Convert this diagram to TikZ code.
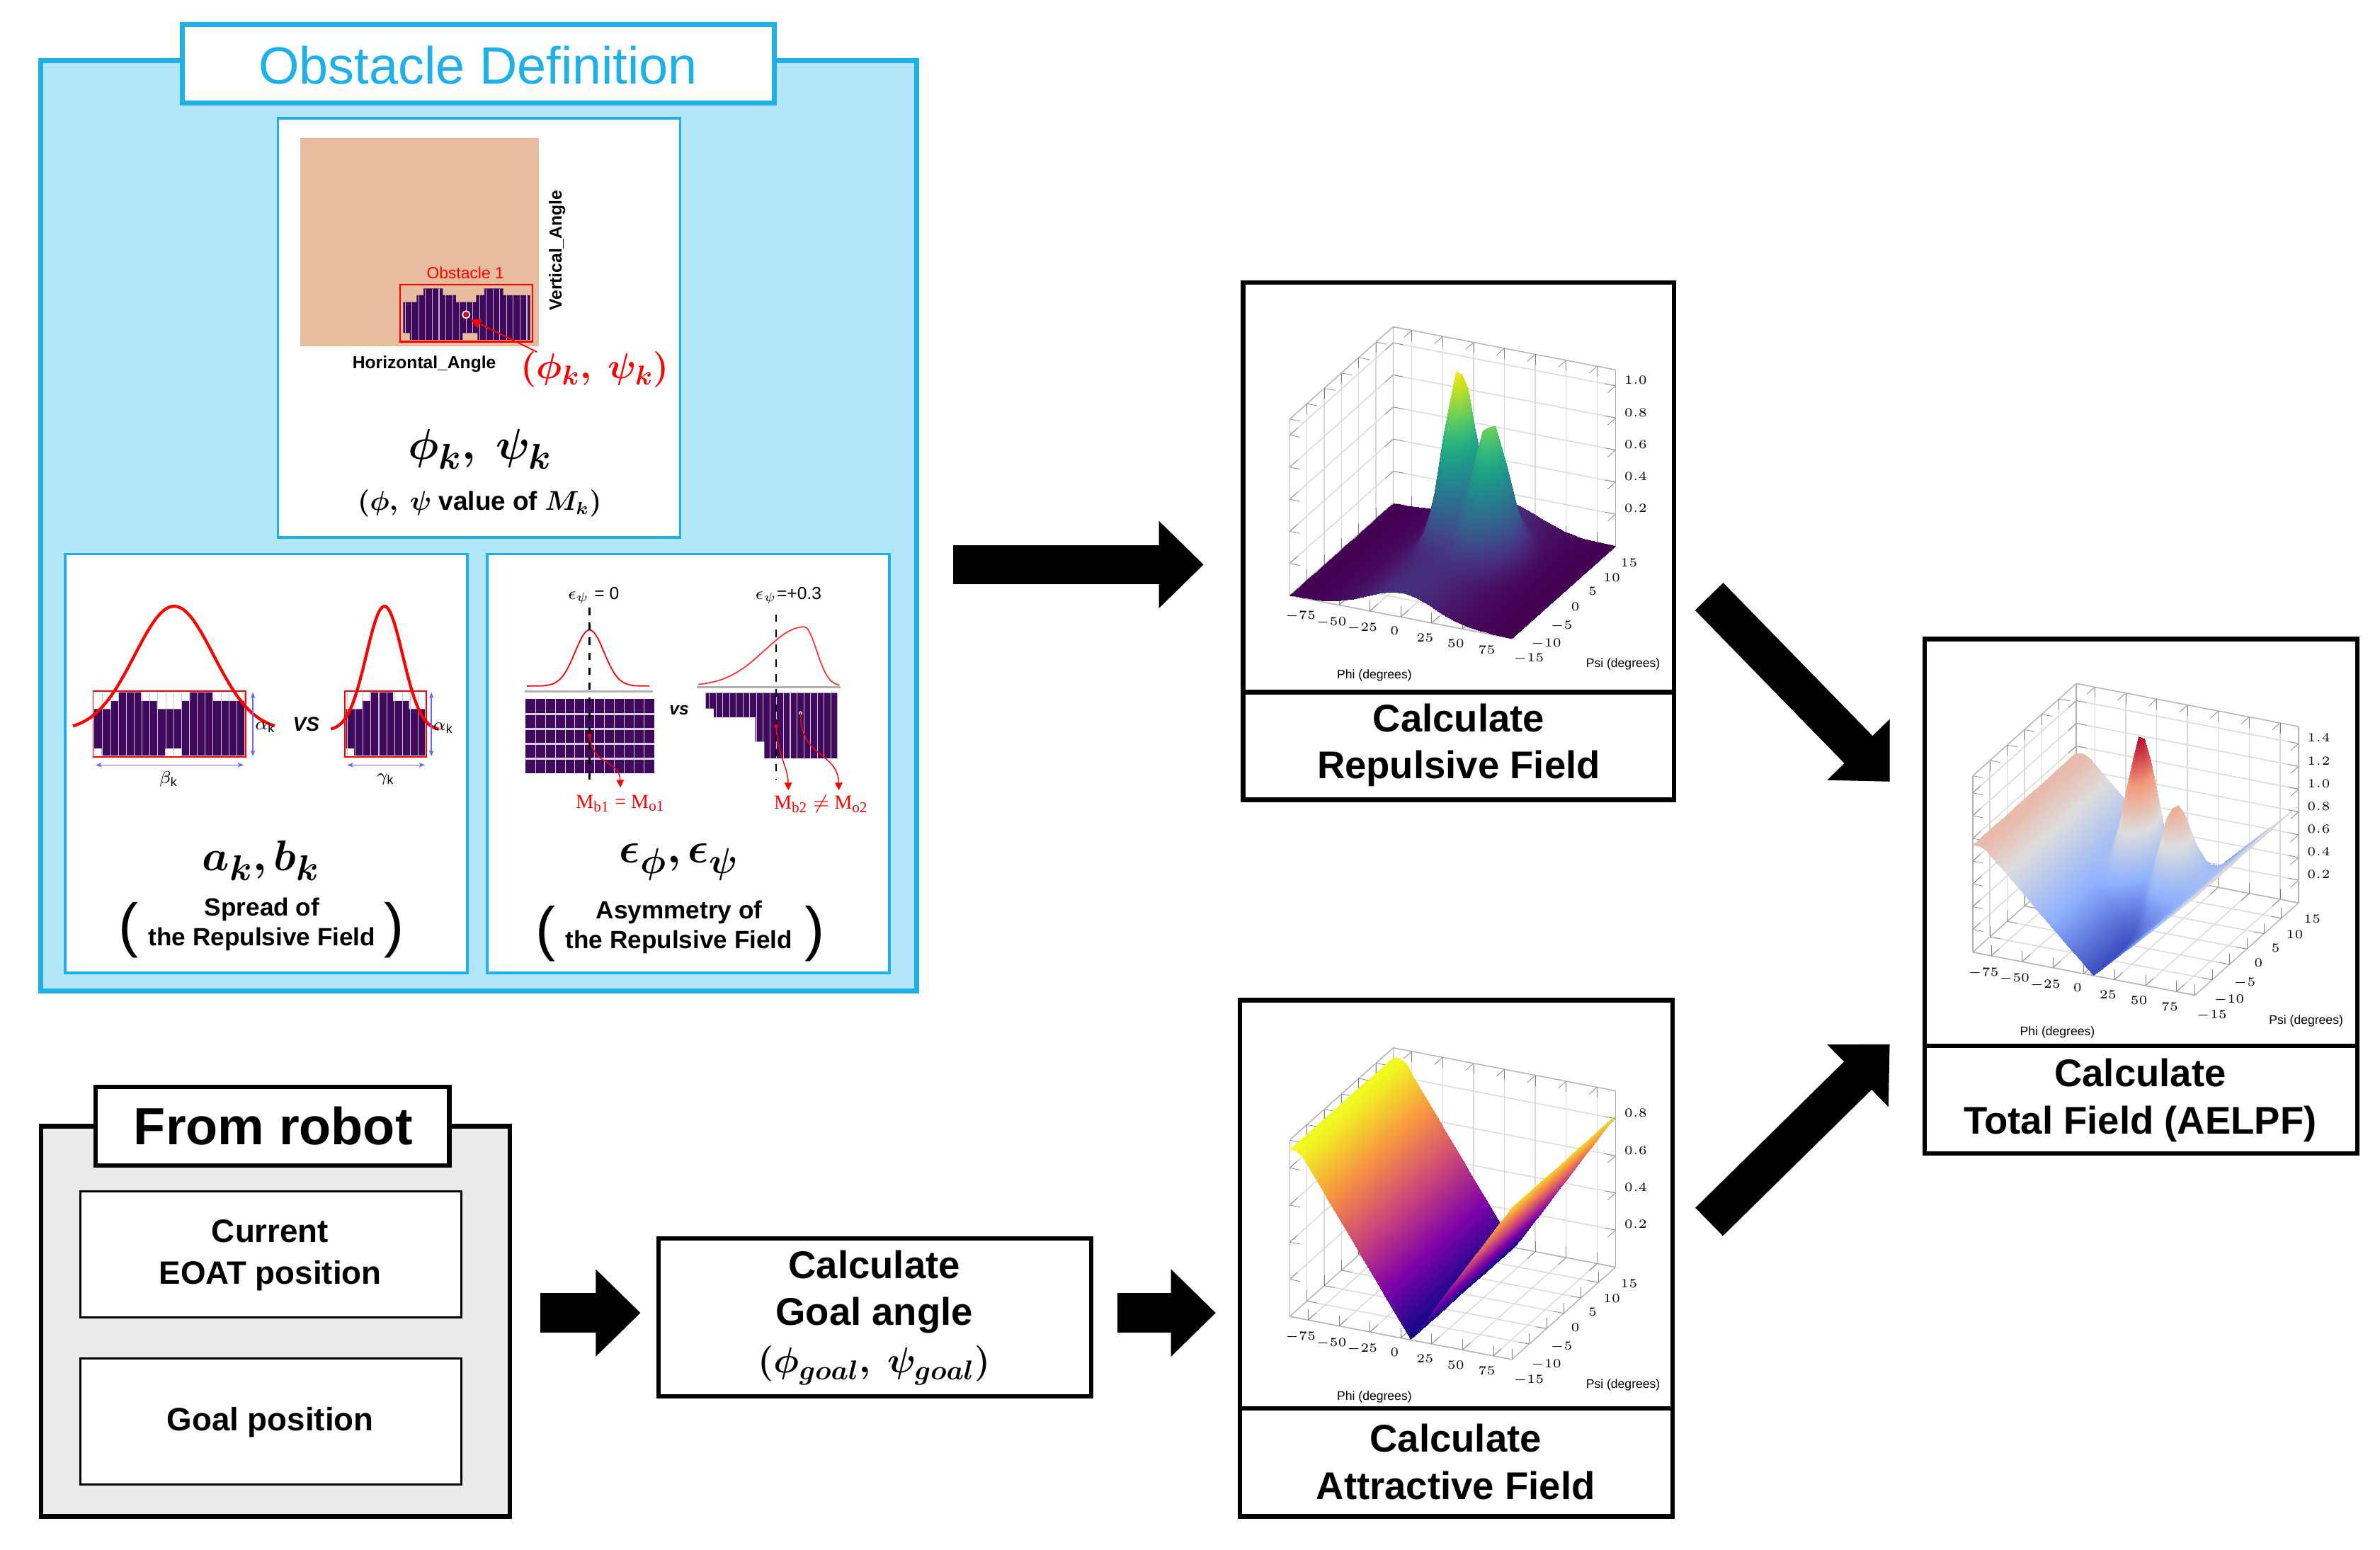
\documentclass[tikz,border=0pt]{standalone}
\usepackage{amsmath,bm}
\usepackage{fontspec}
\setmainfont{Liberation Sans}
\newfontfamily\serifx{Liberation Serif}
\usepackage{pgfplots}
\pgfplotsset{compat=1.18}
\usetikzlibrary{arrows.meta}
\definecolor{cyanb}{HTML}{1EB0E8}
\definecolor{cyanf}{HTML}{B3E6F8}
\definecolor{peach}{HTML}{E8BC9E}
\definecolor{purp}{HTML}{3F0A5B}
\definecolor{grayf}{HTML}{EBEBEB}
\pgfplotsset{
  colormap={plasma}{rgb255=(13,8,135) rgb255=(126,3,168) rgb255=(204,71,120) rgb255=(248,149,64) rgb255=(240,249,33)},
  colormap={coolwarm}{rgb255=(59,76,192) rgb255=(141,176,254) rgb255=(221,221,221) rgb255=(244,154,123) rgb255=(180,4,38)},
  fieldaxis/.style={scale only axis, width=4.6cm, height=4.4cm, view={25}{30},
    grid=major, xmin=-90, xmax=90, ymin=-15, ymax=15,
    xtick={-75,-50,-25,0,25,50,75}, ytick={-15,-10,-5,0,5,10,15},
    tick label style={font=\fontsize{5}{6}\selectfont},
    z tick label style={/pgf/number format/.cd, fixed, fixed zerofill, precision=1},
    label style={font=\fontsize{5}{6}\selectfont},
    xlabel={Phi (degrees)}, ylabel={Psi (degrees)},
    zticklabel pos=right, axis line style={gray!60},
    major grid style={gray!30}}
}
\tikzset{
  box/.style={draw=black, line width=1.8pt, fill=white},
  cbox/.style={draw=cyanb, line width=1pt, fill=white},
  lbl/.style={align=center, font=\fontsize{15.5}{19}\selectfont\bfseries},
  bigarr/.style={line width=15.8pt, -{Triangle[length=18pt,width=34pt]}},
  sm/.style={font=\fontsize{7}{8}\selectfont\bfseries},
}
\begin{document}
\begin{tikzpicture}[x=0.02143cm, y=-0.02143cm]
\useasboundingbox (0,0) rectangle (1568,1021);

% ---- obstacle definition
\draw[draw=cyanb, line width=2pt, fill=cyanf] (27,40) rectangle (604,653);
\draw[draw=cyanb, line width=2pt, fill=white] (120,16) rectangle (510,68);
\node[text=cyanb, font=\fontsize{21}{24}\selectfont] (obs) at (315,43) {Obstacle Definition};

% top panel
\draw[cbox] (183,78) rectangle (448,354);
\fill[peach] (198,91) rectangle (355,228);
\draw[red, line width=0.6pt] (263.5,187.4) rectangle (350.8,225.1);
\node[text=red, font=\fontsize{6.5}{7}\selectfont] (ob1) at (306.6,179.9) {Obstacle 1};
\begin{scope}
\path[clip] (265.6,219.4) -- (265.6,199) -- (274.5,199) -- (274.5,194.5) -- (279,194.5) -- (279,190) -- (291.8,190) -- (291.8,194.5) -- (300.4,194.5) -- (300.4,199) -- (313.7,199) -- (313.7,194.5) -- (319.1,194.5) -- (319.1,190) -- (331.5,190) -- (331.5,194.5) -- (349.3,194.5) -- (349.3,223.9) -- (314.6,223.9) -- (314.6,219.4) -- (304.8,219.4) -- (304.8,223.9) -- (270.1,223.9) -- (270.1,219.4) -- cycle;
\fill[purp] (260,185) rectangle (352,226);
\draw[white!70!purp, line width=0.3pt, step=4.45] (261.15,185.55) grid (352,226);
\end{scope}
\coordinate (mk) at (307.1,207.3);
\fill[red] (mk) circle (1.6);
\draw[white, line width=0.5pt] (mk) circle (2.4);
\coordinate (mks) at (353.8,231.9);
\draw[red, line width=0.5pt, -{Triangle[length=4pt,width=4pt]}] (mks) -- (310.2,210.5);
\node[rotate=90, sm] (va) at (367.1,165.1) {Vertical\_Angle};
\node[sm] (ha) at (279.5,239.9) {Horizontal\_Angle};
\node[text=red, font=\fontsize{15}{18}\selectfont] (pk) at (392,243.5) {$\bm{(\phi_k,\ \psi_k)}$};
\node[font=\fontsize{19}{22}\selectfont] (pk2) at (316.4,296) {$\bm{\phi_k,\ \psi_k}$};
\node[font=\fontsize{10.5}{12}\selectfont\bfseries] (val) at (316,331.6) {$\bm{(\phi,\ \psi}$ value of $\bm{M_k)}$};

% bottom left panel
\draw[cbox] (43,365) rectangle (308,641);
\fill[purp] (62,497.8) -- (62,467.2) -- (72.9,467.2) -- (72.9,461.8) -- (78.2,461.8) -- (78.2,456.1) -- (92.9,456.1) -- (92.9,461.8) -- (103.4,461.8) -- (103.4,467.2) -- (119.9,467.2) -- (119.9,461.8) -- (125.2,461.8) -- (125.2,456.1) -- (140.3,456.1) -- (140.3,461.8) -- (161.3,461.8) -- (161.3,497.8) -- (119.9,497.8) -- (119.9,493) -- (108.7,493) -- (108.7,497.8) -- (67,497.8) -- (67,493) -- (62,493) -- cycle;
\draw[white!75!purp, line width=0.3pt, step=5.2] (62.4,456.1) grid (161.3,497.8);
\draw[red, line width=0.5pt] (61.3,455.3) rectangle (162,498.7);
\draw[red, line width=1.2pt] plot[domain=48:181, samples=70] (\x,{481.4-82*exp(-((\x-114.7)^2)/(2*26^2))});
\draw[blue!60, line width=0.4pt, {Stealth[length=2.5pt]}-{Stealth[length=2.5pt]}] (166.6,456) -- (166.6,498.3);
\draw[blue!60, line width=0.4pt, {Stealth[length=2.5pt]}-{Stealth[length=2.5pt]}] (63,504) -- (160.6,504);
\node[font=\fontsize{7}{8}\selectfont] (al1) at (174.7,479.3) {$\alpha_\mathrm{k}$};
\node[font=\fontsize{7}{8}\selectfont] (be) at (111.1,513.1) {$\beta_\mathrm{k}$};
\node[font=\fontsize{8}{9}\selectfont\bfseries\itshape] (vs1) at (201.7,477) {VS};
\fill[purp] (228,497.8) -- (228,467.2) -- (238.6,467.2) -- (238.6,461.8) -- (243.8,461.8) -- (243.8,456.1) -- (258.9,456.1) -- (258.9,461.8) -- (269.5,461.8) -- (269.5,467.2) -- (280,467.2) -- (280,497.8) -- (233.3,497.8) -- (233.3,493) -- (228,493) -- cycle;
\draw[white!75!purp, line width=0.3pt, step=5.2] (228.4,456.1) grid (280,497.8);
\draw[red, line width=0.5pt] (227.3,455.3) rectangle (280.7,498.7);
\draw[red, line width=1.2pt] plot[domain=218:289, samples=70] (\x,{481.4-82*exp(-((\x-253.3)^2)/(2*12^2))});
\draw[blue!60, line width=0.4pt, {Stealth[length=2.5pt]}-{Stealth[length=2.5pt]}] (284.2,456) -- (284.2,498.3);
\draw[blue!60, line width=0.4pt, {Stealth[length=2.5pt]}-{Stealth[length=2.5pt]}] (228.7,504) -- (280,504);
\node[font=\fontsize{7}{8}\selectfont] (al2) at (292,479.6) {$\alpha_\mathrm{k}$};
\node[font=\fontsize{7}{8}\selectfont] (ga) at (254,513.5) {$\gamma_\mathrm{k}$};
\node[font=\fontsize{19}{22}\selectfont] (ab) at (172,566.9) {$\bm{a_k, b_k}$};
\node[font=\fontsize{10}{12}\selectfont\bfseries, align=center] (spr) at (172.6,609) {Spread of\\the Repulsive Field};
\node[font=\fontsize{24}{26}\selectfont] (lp1) at (84.8,613) {(};
\node[font=\fontsize{24}{26}\selectfont] (rp1) at (259.6,613) {)};

% bottom right panel
\draw[cbox] (321,365) rectangle (586,641);
\node[font=\fontsize{7}{8}\selectfont] (e0) at (391,392.4) {$\epsilon_\psi$ = 0};
\draw[gray!60, line width=0.8pt] (345.6,455.6) -- (429.9,455.6);
\fill[purp] (346.3,460.6) rectangle (430.9,509.6);
\foreach \yy in {470.4,480.2,490,499.8} \draw[white!80!purp, line width=0.8pt] (346.3,\yy) -- (430.9,\yy);
\foreach \xx in {352.8,359.3,365.8,372.3,378.8,385.3,391.8,398.3,404.8,411.3,417.8,424.3} \draw[white!80!purp, line width=0.3pt] (\xx,460.6) -- (\xx,509.6);
\draw[red, line width=0.5pt] plot[domain=347:428, samples=60] (\x,{452-37*exp(-((\x-388.4)^2)/(2*9.5^2))});
\draw[black, dashed, line width=0.6pt] (388.4,400.4) -- (388.4,516.1);
\coordinate (mb1) at (388.4,484.6);
\fill[red] (mb1) circle (1.3);
\draw[red, line width=0.4pt, -{Triangle[length=3pt,width=3pt]}] (mb1) .. controls (390,505) and (408,500) .. (408.8,518.8);
\node[text=red, font=\fontsize{8}{9}\selectfont\serifx] (m1) at (408.8,529.5) {M\textsubscript{b1} = M\textsubscript{o1}};
\node[font=\fontsize{7}{8}\selectfont\bfseries\itshape] (vs2) at (447.4,468.1) {vs};
\node[font=\fontsize{7}{8}\selectfont] (e3) at (519.4,392.4) {$\epsilon_\psi$=+0.3};
\draw[gray!60, line width=0.8pt] (459,452.9) -- (553.8,452.9);
\begin{scope}
\path[clip] (465,456.5) -- (551.6,456.5) -- (551.6,499.6) -- (503.6,499.6) -- (503.6,488.6) -- (497.6,488.6) -- (497.6,472.5) -- (470.2,472.5) -- (470.2,466.8) -- (465,466.8) -- cycle;
\fill[purp] (460,455) rectangle (553,501);
\draw[white!75!purp, line width=0.3pt, step=4.45] (461.8,456.5) grid (553,501);
\end{scope}
\draw[red!80, line width=0.5pt] plot[domain=460:553, samples=80] (\x,{452-39*exp(-((\x-529.9)^2)/(2*(ifthenelse(\x<529.9,26,8))^2))});
\draw[black, dashed, line width=0.6pt] (511.3,404.9) -- (511.3,513.5);
\coordinate (mb2) at (511.3,478.4);
\coordinate (mo2) at (527.4,469.8);
\fill[red] (mb2) circle (1.3);
\fill[white] (mo2) circle (1.2);
\fill[red] (mo2) circle (0.6);
\draw[red, line width=0.4pt, -{Triangle[length=3pt,width=3pt]}] (mb2) .. controls (513,500) and (519,505) .. (519.4,520.6);
\draw[red, line width=0.4pt, -{Triangle[length=3pt,width=3pt]}] (mo2) .. controls (527,500) and (552,495) .. (552.7,520.6);
\node[text=red, font=\fontsize{8}{9}\selectfont\serifx] (m2) at (541,529.9) {M\textsubscript{b2} $\neq$ M\textsubscript{o2}};
\node[font=\fontsize{19}{22}\selectfont] (ee) at (447.4,568) {$\bm{\epsilon_\phi, \epsilon_\psi}$};
\node[font=\fontsize{10}{12}\selectfont\bfseries, align=center] (asy) at (447.4,611) {Asymmetry of\\the Repulsive Field};
\node[font=\fontsize{24}{26}\selectfont] (lp2) at (359.7,615) {(};
\node[font=\fontsize{24}{26}\selectfont] (rp2) at (536.9,615) {)};

% ---- from robot
\draw[box, fill=grayf] (27,742) rectangle (336,999);
\draw[box] (63,716) rectangle (296,768);
\node[font=\fontsize{21}{24}\selectfont\bfseries] (fr) at (180,742) {From robot};
\draw[box, line width=1pt] (53,785) rectangle (304,868);
\node[lbl, font=\fontsize{13}{17}\selectfont\bfseries] (cur) at (178,827) {Current\\EOAT position};
\draw[box, line width=1pt] (53,895) rectangle (304,978);
\node[lbl, font=\fontsize{13}{17}\selectfont\bfseries] (gp) at (178,937) {Goal position};

% ---- goal angle
\draw[box] (434,816) rectangle (719,920);
\node[lbl] (ga2) at (576,868) {Calculate\\Goal angle\\$\bm{(\phi_{goal},\ \psi_{goal})}$};

% ---- field boxes
\draw[box] (819,186) rectangle (1103,527);
\draw[black, line width=1.8pt] (819,456) -- (1103,456);
\node[lbl] (rep) at (961,491) {Calculate\\Repulsive Field};
\draw[box] (1268,421) rectangle (1553,760);
\draw[black, line width=1.8pt] (1268,689) -- (1553,689);
\node[lbl] (tot) at (1410,725) {Calculate\\Total Field (AELPF)};
\draw[box] (817,659) rectangle (1102,999);
\draw[black, line width=1.8pt] (817,928) -- (1102,928);
\node[lbl] (att) at (959,963) {Calculate\\Attractive Field};

% ---- plots
\coordinate (p1) at (957,318);
\coordinate (p2) at (957,793);
\coordinate (p3) at (1407,553);
\begin{axis}[fieldaxis, at={(p1)}, anchor=center, colormap name=viridis,
  zmin=0, zmax=1.1, ztick={0.2,0.4,0.6,0.8,1.0}]
\addplot3[surf, shader=interp, samples=36, samples y=20, domain=-90:90, y domain=-15:15]
  {exp(-((x+12)^2/150+(y-6)^2/20)) + 0.8*exp(-((x-22)^2/250+(y-3)^2/20)) + 0.15*exp(-(x^2)/1500)};
\end{axis}
\begin{axis}[fieldaxis, at={(p2)}, anchor=center, colormap name=plasma,
  zmin=0, zmax=0.95, ztick={0.2,0.4,0.6,0.8}]
\addplot3[surf, shader=interp, samples=36, samples y=12, domain=-90:90, y domain=-15:15]
  {min(0.9, abs(x-8)/100)};
\end{axis}
\begin{axis}[fieldaxis, at={(p3)}, anchor=center, colormap name=coolwarm,
  zmin=0, zmax=1.55, ztick={0.2,0.4,0.6,0.8,1.0,1.2,1.4}]
\addplot3[surf, shader=interp, samples=36, samples y=20, domain=-90:90, y domain=-15:15]
  {1.05*min(0.9, abs(x-8)/100) + 1.3*exp(-((x+12)^2/150+(y-6)^2/20)) + 0.9*exp(-((x-22)^2/250+(y-3)^2/20))};
\end{axis}

% ---- arrows
\coordinate (a1s) at (628,372); \coordinate (a1e) at (793,372);
\coordinate (a2s) at (1126,393); \coordinate (a2e) at (1245,515);
\coordinate (a3s) at (1126,805); \coordinate (a3e) at (1245,688);
\coordinate (a4s) at (356,865); \coordinate (a4e) at (422,865);
\coordinate (a5s) at (736,865); \coordinate (a5e) at (801,865);
\draw[bigarr] (a1s) -- (a1e);
\draw[bigarr] (a2s) -- (a2e);
\draw[bigarr] (a3s) -- (a3e);
\draw[bigarr] (a4s) -- (a4e);
\draw[bigarr] (a5s) -- (a5e);
\end{tikzpicture}
\end{document}
